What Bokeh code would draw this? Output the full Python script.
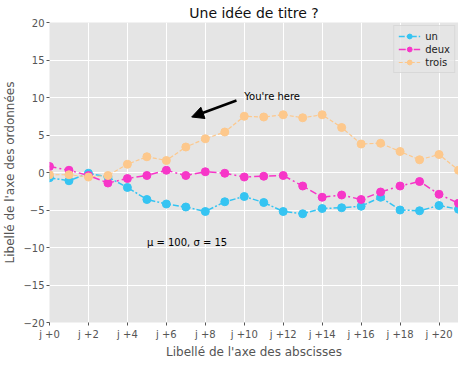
from bokeh.plotting import figure
from bokeh.models import Range1d, FixedTicker, Label, Arrow, NormalHead, Legend, LegendItem, Title
from bokeh.embed import file_html
from bokeh.resources import INLINE

days = list(range(22))
un = [-0.7, -1.1, -0.1, -0.6, -2.0, -3.6, -4.2, -4.6, -5.2, -3.9, -3.2, -4.0, -5.2, -5.5, -4.8, -4.7, -4.5, -3.3, -5.0, -5.1, -4.4, -4.9]
deux = [0.8, 0.3, -0.4, -1.4, -0.8, -0.4, 0.3, -0.4, 0.1, -0.1, -0.6, -0.5, -0.4, -1.8, -3.3, -3.0, -3.6, -2.6, -1.8, -1.2, -2.9, -4.1]
trois = [-0.3, -0.3, -0.6, -0.4, 1.1, 2.1, 1.6, 3.4, 4.5, 5.4, 7.5, 7.4, 7.7, 7.3, 7.7, 6.0, 3.8, 3.9, 2.8, 1.7, 2.4, 0.3]
tick_pos = [0, 2, 4, 6, 8, 10, 12, 14, 16, 18, 20]
tick_labels = ["j +0", "j +2", "j +4", "j +6", "j +8", "j +10", "j +12", "j +14", "j +16", "j +18", "j +20"]
y_ticks = [-20, -15, -10, -5, 0, 5, 10, 15, 20]

FONT = "DejaVu Sans"
GRAY = "#555555"

p = figure(width=458, height=358, output_backend="svg", toolbar_location=None,
           x_range=Range1d(0, 21), y_range=Range1d(-20, 20),
           title="Une idée de titre ?", min_border_left=0, min_border_right=0,
           min_border_top=0, min_border_bottom=0)
p.title.align = "center"
p.title.text_font = FONT
p.title.text_font_size = "14px"
p.title.text_font_style = "normal"
p.title.text_color = "#111111"
p.title.standoff = 4
p.background_fill_color = "#E5E5E5"
p.outline_line_color = None
p.grid.grid_line_color = "white"
p.grid.grid_line_width = 1

p.xaxis.ticker = FixedTicker(ticks=tick_pos)
p.xaxis.major_label_overrides = {t: l for t, l in zip(tick_pos, tick_labels)}
p.yaxis.ticker = FixedTicker(ticks=y_ticks)
p.yaxis.axis_label = "Libellé de l'axe des ordonnées"
for ax in (p.xaxis, p.yaxis):
    ax.axis_line_color = None
    ax.major_tick_line_color = GRAY
    ax.major_tick_out = 3
    ax.major_tick_in = 0
    ax.minor_tick_line_color = None
    ax.major_label_text_font = FONT
    ax.major_label_text_font_size = "10px"
    ax.major_label_text_color = GRAY
    ax.axis_label_text_font = FONT
    ax.axis_label_text_font_size = "12px"
    ax.axis_label_text_font_style = "normal"
    ax.axis_label_text_color = GRAY
p.xaxis.major_label_standoff = 3
p.yaxis.axis_label_standoff = 3
p.yaxis.major_label_standoff = 2

xlabel = Title(text="Libellé de l'axe des abscisses", align="center", text_font=FONT,
               text_font_size="12px", text_font_style="normal", text_color=GRAY, standoff=0)
p.add_layout(xlabel, "below")

series = [("un", un, "#35c4f2", "6 2 2 2", 1.5),
          ("deux", deux, "#f736c8", "7 3 2 3", 1.5),
          ("trois", trois, "#fdc88c", "4 2", 1.2)]
items = []
for name, vals, col, dash, lw in series:
    l = p.line(days, vals, line_color=col, line_dash=dash, line_width=lw)
    s = p.scatter(days, vals, size=8, fill_color=col, line_color=col)
    items.append(LegendItem(label=name, renderers=[l, s]))

legend = Legend(items=items, location="top_right")
legend.background_fill_color = "#E5E5E5"
legend.background_fill_alpha = 0.8
legend.border_line_color = "#cccccc"
legend.label_text_font = FONT
legend.label_text_font_size = "10px"
legend.label_text_color = "#222222"
legend.glyph_width = 22
legend.glyph_height = 12
legend.spacing = 1
legend.padding = 4
legend.margin = 3
legend.label_height = 12
p.add_layout(legend)

p.add_layout(Arrow(end=NormalHead(size=12, fill_color="black", line_color="black"),
                   x_start=9.6, y_start=9.6, x_end=7.3, y_end=7.4,
                   line_color="black", line_width=2.5))
p.add_layout(Label(x=10, y=10.2, text="You're here", text_font=FONT, text_font_size="10px",
                   text_color="black", text_baseline="middle"))
p.add_layout(Label(x=5, y=-10, text="μ = 100,  σ = 15", text_font=FONT, text_font_size="10px",
                   text_color="black", text_baseline="bottom"))

open("out.html", "w").write(file_html(p, INLINE))
